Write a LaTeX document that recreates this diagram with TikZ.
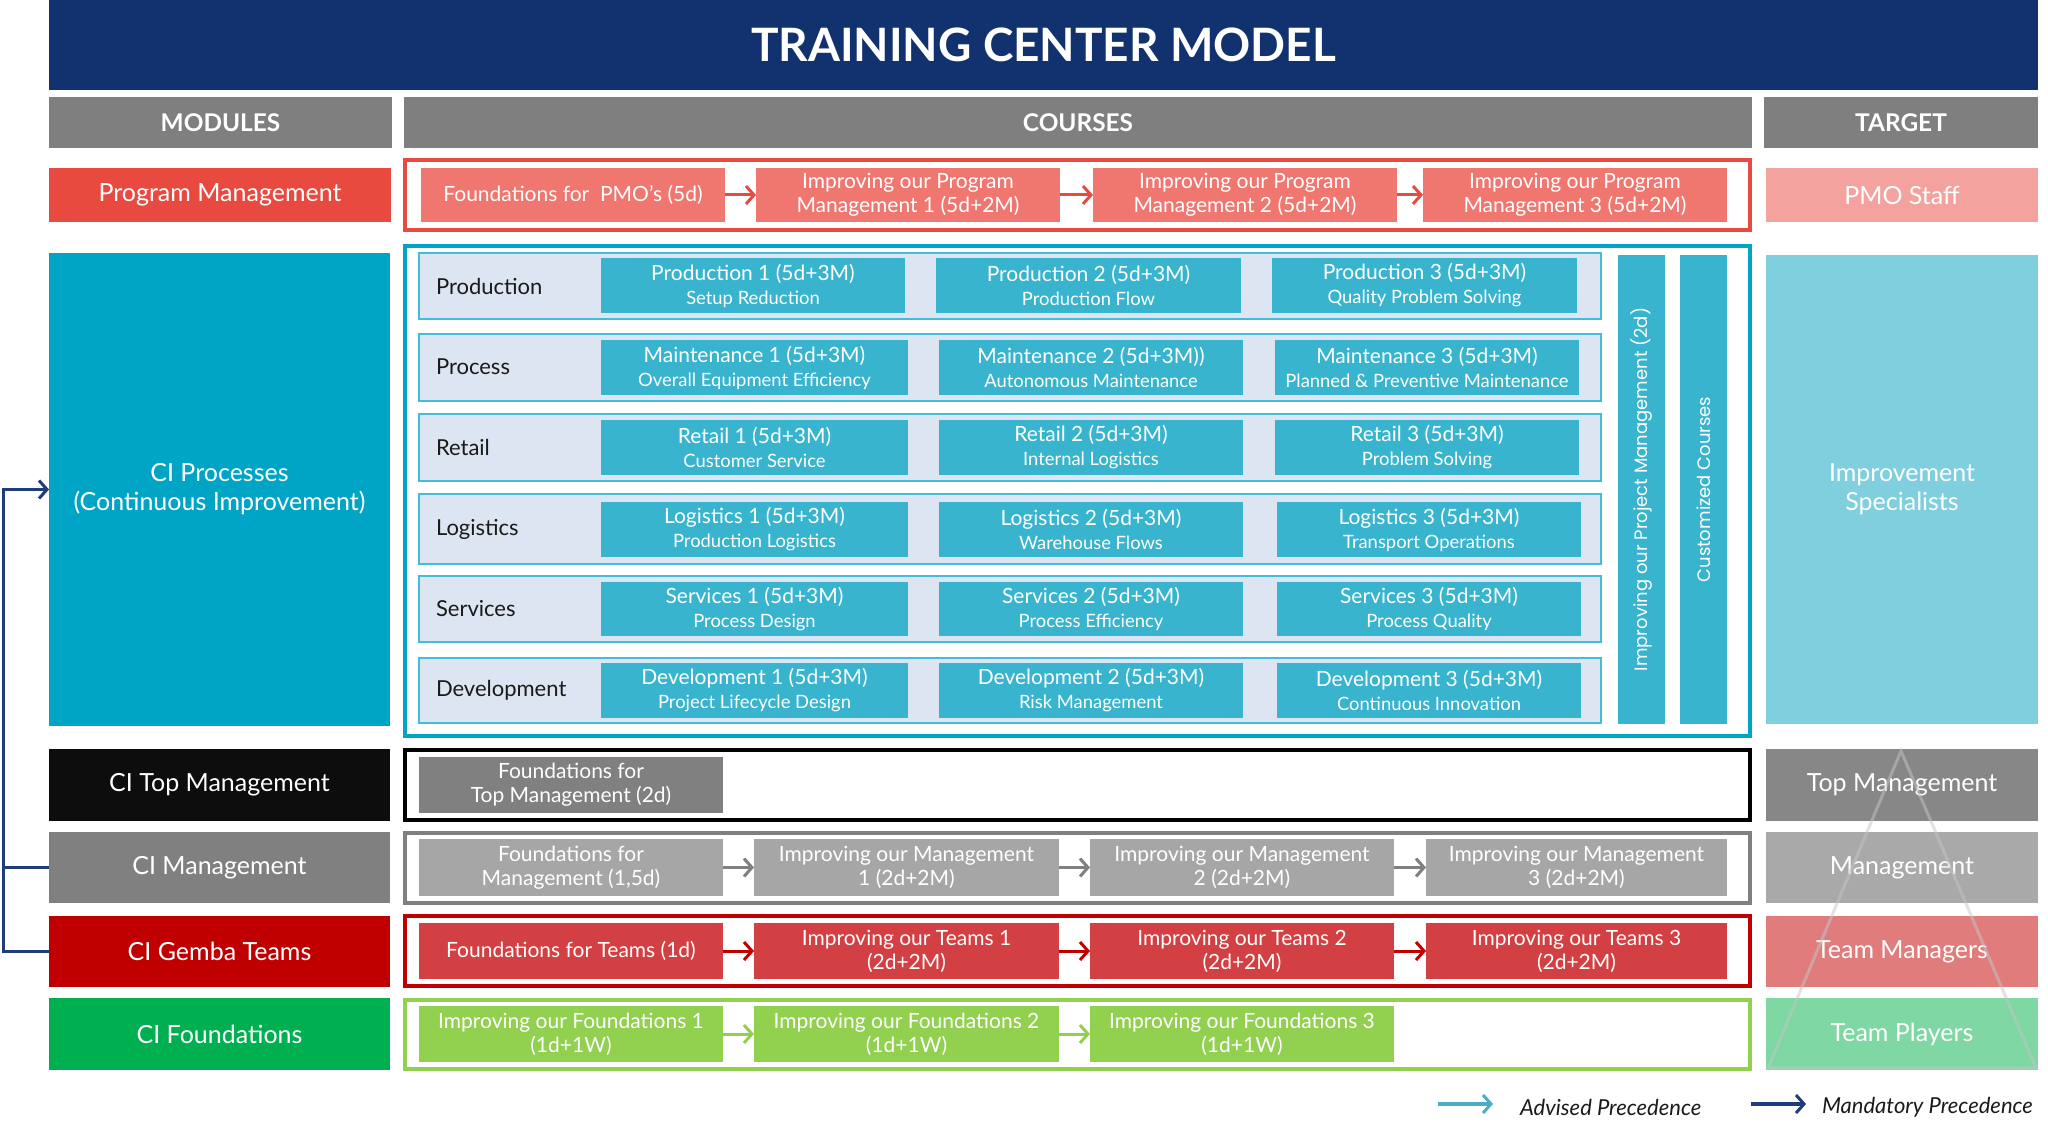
\documentclass[tikz,border=0pt]{standalone}
\usepackage{fontspec}
\setmainfont{Lato}
\newfontfamily\rotfont{Poppins}
\usetikzlibrary{arrows.meta}
\definecolor{navy}{HTML}{12316F}
\definecolor{hdrgray}{HTML}{7F7F7F}
\definecolor{pmred}{HTML}{E84A40}
\definecolor{pmcrs}{HTML}{F07670}
\definecolor{pmtgt}{HTML}{F4A29D}
\definecolor{cimod}{HTML}{00A5C5}
\definecolor{cirow}{HTML}{DCE5F1}
\definecolor{cirowline}{HTML}{40BDD9}
\definecolor{cicrs}{HTML}{38B4CF}
\definecolor{citgt}{HTML}{7FCFDF}
\definecolor{topblk}{HTML}{0D0D0D}
\definecolor{topcrs}{HTML}{808080}
\definecolor{toptgt}{HTML}{878787}
\definecolor{mgmod}{HTML}{808080}
\definecolor{mgcrs}{HTML}{A6A6A6}
\definecolor{mgtgt}{HTML}{A9A9A9}
\definecolor{gbmod}{HTML}{C00000}
\definecolor{gbcrs}{HTML}{D24043}
\definecolor{gbtgt}{HTML}{E07C7C}
\definecolor{fdmod}{HTML}{00B050}
\definecolor{fdcrs}{HTML}{92D050}
\definecolor{fdtgt}{HTML}{7FD7A4}
\definecolor{mandcol}{HTML}{1F3C7B}
\definecolor{advcol}{HTML}{4BACC6}
\definecolor{lbltext}{HTML}{1A1A1A}
\newcommand\bx[7]{\node[#1, minimum width={(#4-#2)*0.5pt}, minimum height={(#5-#3)*0.5pt}] (#6) at ({(#2+#4)/2},{(#3+#5)/2}) {#7};}
\newcommand\subl[1]{{\fontsize{9.2}{10}\selectfont #1}}
\begin{document}
\begin{tikzpicture}[x=0.5pt,y=-0.5pt,
  every node/.style={inner sep=0pt, outer sep=0pt, text=white, align=center},
  hdr/.style={fill=hdrgray, font=\fontsize{12.2}{14}\selectfont\bfseries},
  modbox/.style={font=\fontsize{12.5}{14.5}\selectfont},
  crs/.style={font=\fontsize{10.5}{12}\selectfont},
  cibox/.style={fill=cicrs, font=\fontsize{10.5}{12}\selectfont},
  rowbox/.style={fill=cirow, draw=cirowline, line width=0.9pt},
  lbl/.style={text=lbltext, font=\fontsize{11}{13}\selectfont, anchor=west},
  outl/.style={fill=white, line width=1.6pt},
  flow/.style={line width=1.5pt, -{Straight Barb[length=4pt, width=9pt, line width=1.5pt]}},
  mand/.style={draw=mandcol, line width=1.5pt},
  legtext/.style={text=lbltext, font=\fontsize{11}{13}\selectfont\itshape, anchor=west}
]
\useasboundingbox (0,0) rectangle (2048,1133);
% title and headers
\bx{fill=navy, font=\fontsize{23}{26}\selectfont\bfseries}{49}{0}{2038}{90}{title}{TRAINING CENTER MODEL}
\bx{hdr}{49}{97}{392}{148}{hmod}{MODULES}
\bx{hdr}{404}{97}{1752}{148}{hcrs}{COURSES}
\bx{hdr}{1764}{97}{2038}{148}{htgt}{TARGET}
% program management
\bx{modbox, fill=pmred}{49}{168}{391}{222}{mpm}{Program Management}
\bx{outl, draw=pmred}{405}{160}{1750}{230}{opm}{}
\bx{crs, fill=pmcrs}{421}{168}{725}{222}{pm1}{Foundations for\ \ PMO’s (5d)}
\bx{crs, fill=pmcrs}{756}{168}{1060}{222}{pm2}{Improving our Program\\Management 1 (5d+2M)}
\bx{crs, fill=pmcrs}{1093}{168}{1397}{222}{pm3}{Improving our Program\\Management 2 (5d+2M)}
\bx{crs, fill=pmcrs}{1423}{168}{1727}{222}{pm4}{Improving our Program\\Management 3 (5d+2M)}
\bx{modbox, fill=pmtgt}{1766}{168}{2038}{222}{tpm}{PMO Staff}
\draw[flow, draw=pmred] (pm1.east) -- (pm2.west);
\draw[flow, draw=pmred] (pm2.east) -- (pm3.west);
\draw[flow, draw=pmred] (pm3.east) -- (pm4.west);
% CI processes
\bx{modbox, fill=cimod}{49}{253}{390}{726}{mci}{CI Processes\\(Continuous Improvement)}
\bx{outl, draw=cimod}{405}{246}{1750}{736}{oci}{}
\bx{modbox, fill=citgt}{1766}{255}{2038}{724}{tci}{Improvement\\Specialists}
% rows
\bx{rowbox}{419}{253}{1601}{319}{r1}{}
\bx{rowbox}{419}{334}{1601}{401}{r2}{}
\bx{rowbox}{419}{414}{1601}{481}{r3}{}
\bx{rowbox}{419}{494}{1601}{564}{r4}{}
\bx{rowbox}{419}{576}{1601}{642}{r5}{}
\bx{rowbox}{419}{658}{1601}{723}{r6}{}
\node[lbl] (l1) at (436,286) {Production};
\node[lbl] (l2) at (436,367) {Process};
\node[lbl] (l3) at (436,447) {Retail};
\node[lbl] (l4) at (436,529) {Logistics};
\node[lbl] (l5) at (436,609) {Services};
\node[lbl] (l6) at (436,690) {Development};
\bx{cibox}{601}{258}{905}{313}{c11}{Production 1 (5d+3M)\\\subl{Setup Reduction}}
\bx{cibox}{936}{258}{1241}{313}{c12}{Production 2 (5d+3M)\\\subl{Production Flow}}
\bx{cibox}{1272}{258}{1577}{313}{c13}{Production 3 (5d+3M)\\\subl{Quality Problem Solving}}
\bx{cibox}{601}{340}{908}{395}{c21}{Maintenance 1 (5d+3M)\\\subl{Overall Equipment Efficiency}}
\bx{cibox}{939}{340}{1243}{395}{c22}{Maintenance 2 (5d+3M))\\\subl{Autonomous Maintenance}}
\bx{cibox}{1275}{340}{1579}{395}{c23}{Maintenance 3 (5d+3M)\\\subl{Planned \& Preventive Maintenance}}
\bx{cibox}{601}{420}{908}{475}{c31}{Retail 1 (5d+3M)\\\subl{Customer Service}}
\bx{cibox}{939}{420}{1243}{475}{c32}{Retail 2 (5d+3M)\\\subl{Internal Logistics}}
\bx{cibox}{1275}{420}{1579}{475}{c33}{Retail 3 (5d+3M)\\\subl{Problem Solving}}
\bx{cibox}{601}{502}{908}{557}{c41}{Logistics 1 (5d+3M)\\\subl{Production Logistics}}
\bx{cibox}{939}{502}{1243}{557}{c42}{Logistics 2 (5d+3M)\\\subl{Warehouse Flows}}
\bx{cibox}{1277}{502}{1581}{557}{c43}{Logistics 3 (5d+3M)\\\subl{Transport Operations}}
\bx{cibox}{601}{582}{908}{636}{c51}{Services 1 (5d+3M)\\\subl{Process Design}}
\bx{cibox}{939}{582}{1243}{636}{c52}{Services 2 (5d+3M)\\\subl{Process Efficiency}}
\bx{cibox}{1277}{582}{1581}{636}{c53}{Services 3 (5d+3M)\\\subl{Process Quality}}
\bx{cibox}{601}{663}{908}{718}{c61}{Development 1 (5d+3M)\\\subl{Project Lifecycle Design}}
\bx{cibox}{939}{663}{1243}{718}{c62}{Development 2 (5d+3M)\\\subl{Risk Management}}
\bx{cibox}{1277}{663}{1581}{718}{c63}{Development 3 (5d+3M)\\\subl{Continuous Innovation}}
\bx{fill=cicrs}{1618}{255}{1665}{724}{bar1}{}
\bx{fill=cicrs}{1680}{255}{1727}{724}{bar2}{}
\node[rotate=90, font=\rotfont\fontsize{9}{10}\selectfont] (bt1) at (bar1.center) {Improving our Project Management (2d)};
\node[rotate=90, font=\rotfont\fontsize{9}{10}\selectfont] (bt2) at (bar2.center) {Customized Courses};
% CI top management
\bx{modbox, fill=topblk}{49}{749}{390}{821}{mtop}{CI Top Management}
\bx{outl, draw=black}{405}{750}{1750}{820}{otop}{}
\bx{crs, fill=topcrs}{419}{757}{723}{813}{top1}{Foundations for\\Top Management (2d)}
\bx{modbox, fill=toptgt}{1766}{749}{2038}{821}{ttop}{Top Management}
% CI management
\bx{modbox, fill=mgmod}{49}{832}{390}{903}{mmg}{CI Management}
\bx{outl, draw=mgmod}{405}{833}{1750}{903}{omg}{}
\bx{crs, fill=mgcrs}{419}{839}{723}{896}{mg1}{Foundations for\\Management (1,5d)}
\bx{crs, fill=mgcrs}{754}{839}{1059}{896}{mg2}{Improving our Management\\1 (2d+2M)}
\bx{crs, fill=mgcrs}{1090}{839}{1394}{896}{mg3}{Improving our Management\\2 (2d+2M)}
\bx{crs, fill=mgcrs}{1426}{839}{1727}{896}{mg4}{Improving our Management\\3 (2d+2M)}
\bx{modbox, fill=mgtgt}{1766}{832}{2038}{903}{tmg}{Management}
\draw[flow, draw=mgmod] (mg1.east) -- (mg2.west);
\draw[flow, draw=mgmod] (mg2.east) -- (mg3.west);
\draw[flow, draw=mgmod] (mg3.east) -- (mg4.west);
% CI gemba teams
\bx{modbox, fill=gbmod}{49}{916}{390}{987}{mgb}{CI Gemba Teams}
\bx{outl, draw=gbmod}{405}{916}{1750}{986}{ogb}{}
\bx{crs, fill=gbcrs}{419}{923}{723}{979}{gb1}{Foundations for Teams (1d)}
\bx{crs, fill=gbcrs}{754}{923}{1059}{979}{gb2}{Improving our Teams 1\\(2d+2M)}
\bx{crs, fill=gbcrs}{1090}{923}{1394}{979}{gb3}{Improving our Teams 2\\(2d+2M)}
\bx{crs, fill=gbcrs}{1426}{923}{1727}{979}{gb4}{Improving our Teams 3\\(2d+2M)}
\bx{modbox, fill=gbtgt}{1766}{916}{2038}{987}{tgb}{Team Managers}
\draw[flow, draw=gbmod] (gb1.east) -- (gb2.west);
\draw[flow, draw=gbmod] (gb2.east) -- (gb3.west);
\draw[flow, draw=gbmod] (gb3.east) -- (gb4.west);
% CI foundations
\bx{modbox, fill=fdmod}{49}{998}{390}{1070}{mfd}{CI Foundations}
\bx{outl, draw=fdcrs}{405}{1000}{1750}{1069}{ofd}{}
\bx{crs, fill=fdcrs}{419}{1006}{723}{1062}{fd1}{Improving our Foundations 1\\(1d+1W)}
\bx{crs, fill=fdcrs}{754}{1006}{1059}{1062}{fd2}{Improving our Foundations 2\\(1d+1W)}
\bx{crs, fill=fdcrs}{1090}{1006}{1394}{1062}{fd3}{Improving our Foundations 3\\(1d+1W)}
\bx{modbox, fill=fdtgt}{1766}{998}{2038}{1070}{tfd}{Team Players}
\draw[flow, draw=fdcrs] (fd1.east) -- (fd2.west);
\draw[flow, draw=fdcrs] (fd2.east) -- (fd3.west);
% pyramid
\draw[draw=gray!45, opacity=0.5, line width=1.5pt, line join=miter] (1901,751) -- (1768,1068) -- (2036,1068) -- cycle;
% mandatory connectors
\coordinate (lx) at (3,0);
\draw[mand, flow] (mgb.west) -- (mgb.west -| lx) |- (mci.west);
\draw[mand] (mmg.west) -- (mmg.west -| lx);
% legend
\coordinate (a1) at (1438,1104);
\coordinate (a2) at (1493,1104);
\coordinate (m1) at (1751,1104);
\coordinate (m2) at (1806,1104);
\draw[flow, draw=advcol, line width=2pt] (a1) -- (a2);
\draw[flow, draw=mandcol, line width=2pt] (m1) -- (m2);
\node[legtext] (lt1) at (1520,1107) {Advised Precedence};
\node[legtext] (lt2) at (1822,1107) {Mandatory Precedence};
\end{tikzpicture}
\end{document}
